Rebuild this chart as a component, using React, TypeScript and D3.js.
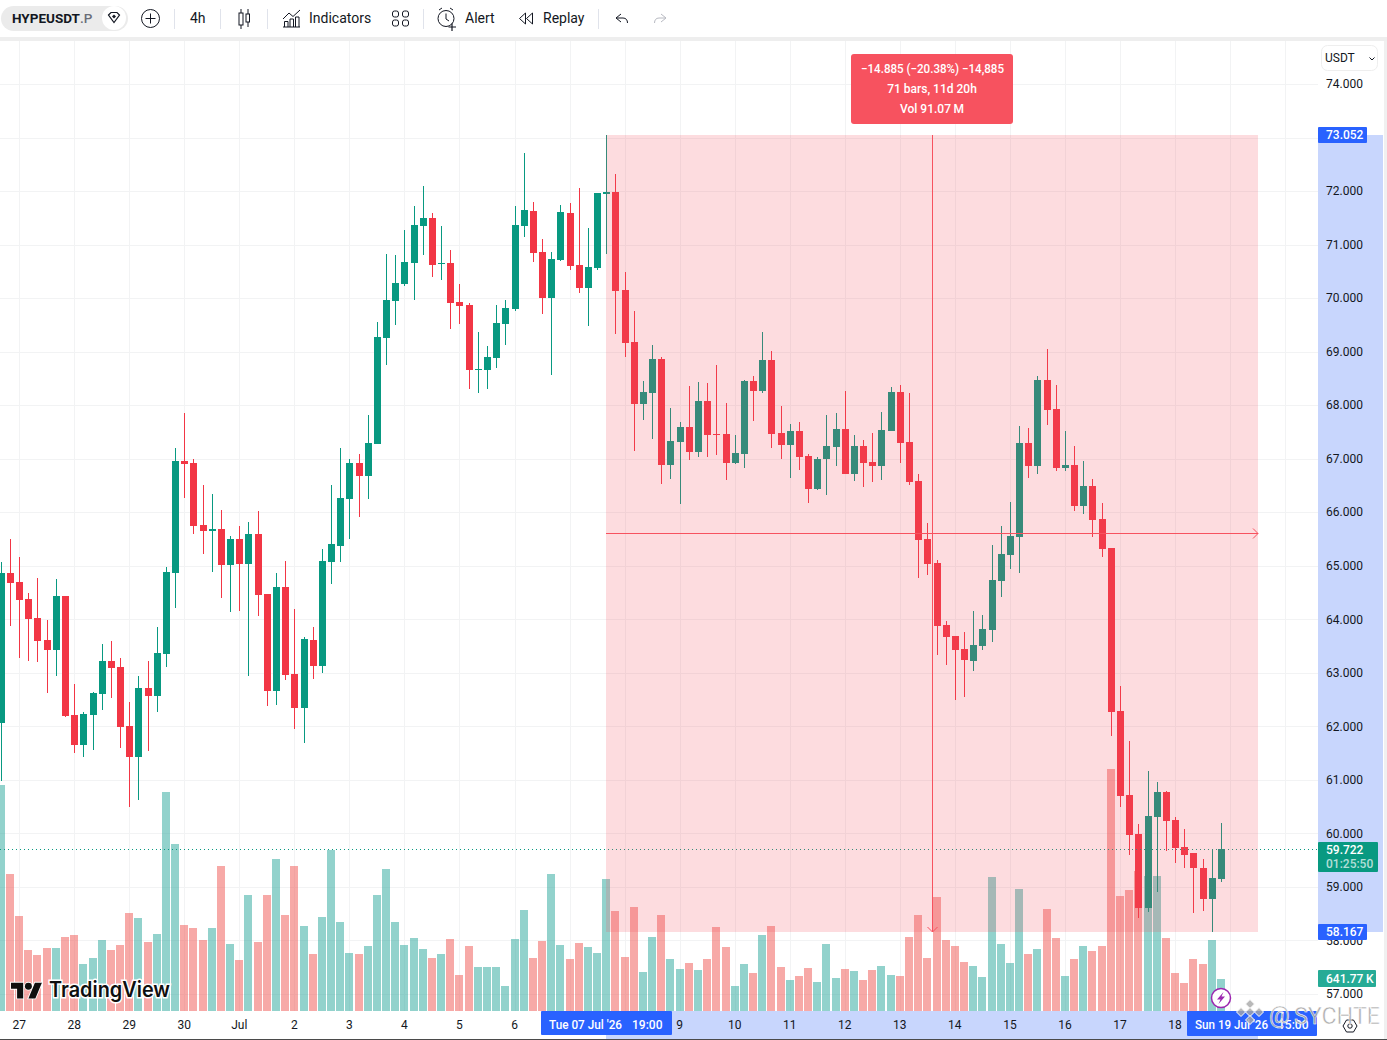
import React, { useEffect, useRef } from "react";
import * as d3 from "d3";

// 4h candles, oldest first (USDT)
const opens = [
  62.07, 64.87, 64.71, 64.39, 64.03, 63.62, 63.44, 64.44, 62.22, 61.66,
  62.22, 62.61, 63.23, 63.12, 62.02, 61.44, 62.73, 62.58, 63.36, 64.87,
  66.97, 66.93, 65.77, 65.66, 65.7, 65.02, 65.51, 65.04, 65.6, 64.48,
  62.67, 64.61, 62.99, 62.35, 63.62, 63.14, 65.08, 65.38, 66.26, 66.93,
  66.69, 67.28, 69.27, 69.96, 70.27, 70.67, 71.36, 71.51, 70.65, 70.67,
  69.94, 69.88, 68.67, 68.67, 68.89, 69.53, 69.81, 71.36, 71.64, 70.87,
  70.01, 70.72, 71.6, 70.63, 70.2, 70.57, 71.96, 71.99, 70.16, 69.19,
  68.03, 68.24, 68.87, 66.89, 67.32, 67.6, 67.14, 68.09, 67.47, 67.47,
  66.93, 67.1, 68.46, 68.28, 68.85, 67.49, 67.27, 67.53, 67.06, 66.44,
  67.0, 67.23, 67.57, 66.72, 67.25, 66.95, 66.87, 67.53, 68.26, 67.32,
  66.59, 65.51, 65.06, 63.9, 63.7, 63.45, 63.23, 63.51, 63.81, 64.73,
  65.21, 65.55, 67.3, 66.87, 68.48, 67.94, 66.84, 66.89, 66.13, 66.5,
  65.88, 65.34, 62.3, 60.73, 60.0, 58.61, 60.32, 60.78, 60.26, 59.76,
  59.64, 59.36, 58.78, 59.16,
];
const closes = [
  64.87, 64.69, 64.37, 64.02, 63.6, 63.44, 64.44, 62.2, 61.66, 62.24,
  62.63, 63.23, 63.1, 62.0, 61.44, 62.73, 62.58, 63.38, 64.89, 66.97,
  66.91, 65.75, 65.66, 65.7, 65.02, 65.51, 65.04, 65.6, 64.46, 62.67,
  64.61, 62.97, 62.35, 63.64, 63.14, 65.1, 65.42, 66.28, 66.93, 66.69,
  67.3, 69.28, 69.98, 70.29, 70.69, 71.38, 71.51, 70.63, 70.67, 69.92,
  69.86, 68.67, 68.69, 68.91, 69.55, 69.83, 71.38, 71.66, 70.85, 70.01,
  70.74, 71.62, 70.61, 70.2, 70.59, 71.98, 71.99, 70.14, 69.17, 68.03,
  68.26, 68.87, 66.89, 67.34, 67.6, 67.14, 68.09, 67.45, 67.45, 66.93,
  67.12, 68.46, 68.28, 68.85, 67.47, 67.27, 67.53, 67.04, 66.44, 67.0,
  67.25, 67.57, 66.72, 67.25, 66.93, 66.87, 67.55, 68.26, 67.3, 66.58,
  65.49, 65.04, 63.88, 63.68, 63.44, 63.25, 63.53, 63.83, 64.74, 65.23,
  65.57, 67.3, 66.87, 68.48, 67.92, 66.84, 66.89, 66.13, 66.5, 65.87,
  65.32, 62.28, 60.71, 59.98, 58.61, 60.33, 60.78, 60.24, 59.74, 59.61,
  59.36, 58.78, 59.18, 59.72,
];
const highs = [
  65.08, 65.51, 65.17, 64.5, 64.78, 64.0, 64.76, 64.44, 62.8, 62.28,
  62.65, 63.55, 63.6, 63.29, 62.46, 62.95, 63.23, 63.87, 64.99, 67.21,
  67.86, 67.0, 66.52, 66.35, 66.05, 65.57, 65.75, 65.83, 66.03, 64.48,
  64.87, 65.1, 64.2, 63.68, 63.87, 65.32, 66.52, 67.21, 67.0, 67.1,
  67.83, 69.56, 70.84, 70.82, 71.28, 71.73, 72.11, 71.6, 71.36, 70.91,
  70.27, 69.92, 69.38, 69.12, 69.88, 69.98, 71.73, 72.72, 71.81, 71.12,
  70.87, 71.75, 71.79, 72.07, 71.32, 71.98, 73.052, 72.33, 70.5, 69.77,
  68.46, 69.14, 68.91, 67.96, 67.7, 68.37, 68.44, 68.42, 68.76, 68.05,
  67.45, 68.48, 68.56, 69.38, 69.02, 67.99, 67.66, 67.7, 67.1, 67.04,
  67.83, 67.86, 68.28, 67.45, 67.36, 67.49, 67.88, 68.35, 68.39, 68.24,
  66.72, 65.81, 65.12, 63.98, 63.7, 63.77, 64.16, 64.09, 65.4, 65.75,
  66.2, 67.62, 67.58, 68.56, 69.06, 68.39, 67.53, 67.25, 66.97, 66.63,
  66.18, 65.34, 62.76, 61.74, 60.18, 61.17, 60.97, 60.8, 60.32, 60.09,
  59.64, 59.53, 59.72, 60.2,
];
const lows = [
  60.99, 63.88, 63.29, 63.23, 63.21, 62.63, 62.95, 62.18, 61.51, 61.44,
  61.57, 62.31, 62.54, 61.6, 60.5, 60.63, 61.55, 62.28, 63.12, 64.22,
  66.28, 65.6, 65.23, 64.89, 64.41, 64.15, 64.16, 62.95, 64.07, 62.39,
  62.41, 62.88, 61.96, 61.7, 62.89, 63.01, 64.67, 65.08, 65.51, 65.92,
  66.26, 67.28, 68.76, 69.51, 70.24, 69.98, 70.82, 70.41, 70.35, 69.43,
  69.53, 68.31, 68.24, 68.31, 68.71, 69.14, 69.77, 71.15, 70.69, 69.71,
  68.57, 70.7, 70.54, 70.11, 69.49, 70.54, 70.84, 69.34, 68.91, 67.15,
  67.73, 67.38, 66.54, 66.63, 66.16, 66.99, 67.04, 67.04, 67.08, 66.61,
  66.91, 66.84, 67.71, 68.24, 67.21, 67.0, 66.65, 66.8, 66.18, 66.43,
  66.33, 66.87, 66.72, 66.59, 66.48, 66.58, 66.61, 67.53, 66.93, 66.52,
  64.78, 64.84, 63.34, 63.16, 62.5, 62.56, 63.04, 63.44, 63.58, 64.43,
  64.95, 64.87, 66.65, 66.72, 67.64, 66.78, 66.78, 66.03, 65.98, 65.55,
  65.17, 61.83, 60.5, 59.61, 58.43, 58.54, 58.91, 59.68, 59.46, 59.36,
  58.52, 58.56, 58.167, 59.1,
];
// volume in thousands
const volumes = [
  4524, 2739, 1897, 1216, 1116, 1256, 1256, 1476, 1516, 935,
  1055, 1416, 1216, 1316, 1957, 1857, 1376, 1536, 4382, 3340,
  1717, 1657, 1416, 1657, 2899, 1336, 1015, 2318, 1376, 2318,
  3039, 1917, 2899, 1697, 1136, 1884, 3226, 1784, 1162, 1142,
  1303, 2325, 2846, 1784, 1323, 1463, 1242, 1062, 1142, 1443,
  721, 1303, 882, 882, 882, 501, 1443, 2024, 1062, 1403,
  2745, 1323, 1042, 1363, 1283, 1162, 2645, 2004, 1082, 2084,
  782, 1483, 1924, 1042, 842, 962, 822, 1042, 1683, 1283,
  501, 942, 762, 1523, 1703, 882, 621, 701, 862, 581,
  1343, 661, 842, 802, 621, 822, 902, 721, 701, 1483,
  1924, 1062, 2285, 1423, 1303, 982, 902, 681, 2685, 1343,
  962, 2445, 1142, 1242, 2044, 1463, 701, 1042, 1303, 1202,
  1303, 4850, 2305, 2425, 2806, 2705, 2705, 1463, 762, 561,
  1042, 942, 1423, 642,
];

const priceTicks = d3.range(57, 75);
// 73.000 sits under the range high label in the reference
const priceLabels = priceTicks.filter((p) => p !== 73);
const dayTickIndex = d3.range(2, 146, 6);
const dayLabels = [
  "27", "28", "29", "30", "Jul", "2", "3", "4", "5", "6", "", "", "9",
  "10", "11", "12", "13", "14", "15", "16", "17", "18", "", "",
];

const upColor = "#089981";
const downColor = "#f23645";
const toolColor = "#f7525f";
const blue = "#2962ff";
const blueBand = "#c8d6fd";
const gridColor = "#f2f3f4";
const font = "Roboto, 'Liberation Sans', sans-serif";

const rangeStart = 66;
const rangeEnd = 137;
const rangeHigh = 73.052;
const rangeLow = 58.167;
const lastPrice = 59.722;

const paneBottom = 1011;

const x = d3.scaleLinear().domain([0, 133]).range([1.3, 1221.4]);
const y = d3.scaleLinear().domain([60, 68]).range([833.9, 405.74]);
const yVol = d3.scaleLinear().domain([0, 4524]).range([paneBottom, 785]);

const App: React.FC = () => {
  const marksRef = useRef<SVGGElement>(null);

  useEffect(() => {
    if (!marksRef.current) return;
    const g = d3.select(marksRef.current);
    g.selectAll("*").remove();

    // Grid
    g.append("g")
      .selectAll("rect")
      .data(priceTicks)
      .join("rect")
      .attr("x", 0)
      .attr("width", 1318)
      .attr("y", (d) => Math.floor(y(d)))
      .attr("height", 1)
      .attr("fill", gridColor);
    g.append("g")
      .selectAll("rect")
      .data(dayTickIndex.filter((d) => x(d) < 1318))
      .join("rect")
      .attr("x", (d) => Math.floor(x(d)))
      .attr("width", 1)
      .attr("y", 41)
      .attr("height", paneBottom - 41)
      .attr("fill", gridColor);

    const idx = d3.range(opens.length);
    const isUp = (i: number) => closes[i] >= opens[i];

    // Volume
    g.append("g")
      .selectAll("rect")
      .data(idx)
      .join("rect")
      .attr("x", (i) => Math.floor(x(i)) - 4)
      .attr("width", 8)
      .attr("y", (i) => Math.round(yVol(volumes[i])))
      .attr("height", (i) => paneBottom - Math.round(yVol(volumes[i])))
      .attr("fill", (i) => (isUp(i) ? "#26a69a" : "#ef5350"))
      .attr("fill-opacity", 0.5);

    // Candles
    g.append("g")
      .selectAll("rect")
      .data(idx)
      .join("rect")
      .attr("x", (i) => Math.floor(x(i)))
      .attr("width", 1)
      .attr("y", (i) => Math.round(y(highs[i])))
      .attr("height", (i) => Math.round(y(lows[i])) - Math.round(y(highs[i])))
      .attr("fill", (i) => (isUp(i) ? upColor : downColor));
    g.append("g")
      .selectAll("rect")
      .data(idx)
      .join("rect")
      .attr("x", (i) => Math.floor(x(i)) - 3)
      .attr("width", 7)
      .attr("y", (i) => Math.round(y(Math.max(opens[i], closes[i]))))
      .attr("height", (i) =>
        Math.max(1, Math.round(y(Math.min(opens[i], closes[i]))) - Math.round(y(Math.max(opens[i], closes[i])))),
      )
      .attr("fill", (i) => (isUp(i) ? upColor : downColor));

    // Last price line
    g.append("line")
      .attr("x1", 0)
      .attr("x2", 1318)
      .attr("y1", Math.floor(y(lastPrice)) + 1.5)
      .attr("y2", Math.floor(y(lastPrice)) + 1.5)
      .attr("stroke", upColor)
      .attr("stroke-dasharray", "1 3");
  }, []);

  const boxLeft = Math.floor(x(rangeStart));
  const boxRight = Math.round(x(rangeEnd));
  const boxTop = Math.round(y(rangeHigh));
  const boxBottom = Math.round(y(rangeLow));
  const midX = 932.5;
  const midY = 533.5;

  return (
    <div style={{ position: "absolute", left: 0, top: 0 }}>
      <svg width={1387} height={1040} style={{ display: "block" }} fontFamily={font}>
        <rect width={1387} height={1040} fill="#fff" />
        <g ref={marksRef} />

        {/* measure tool */}
        <rect x={boxLeft} y={boxTop} width={boxRight - boxLeft} height={boxBottom - boxTop} fill={toolColor} fillOpacity={0.2} />
        <line x1={midX} x2={midX} y1={boxTop} y2={boxBottom} stroke={toolColor} />
        <line x1={boxLeft} x2={boxRight} y1={midY} y2={midY} stroke={toolColor} />
        <path d={`M${midX - 5},${boxBottom - 5}L${midX},${boxBottom}L${midX + 5},${boxBottom - 5}`} fill="none" stroke={toolColor} />
        <path d={`M${boxRight - 5},${midY - 5}L${boxRight},${midY}L${boxRight - 5},${midY + 5}`} fill="none" stroke={toolColor} />
        <rect x={851} y={54} width={162} height={70} rx={3} fill={toolColor} />
        <g fill="#fff" fontSize={12} fontWeight={500} textAnchor="middle" dominantBaseline="central">
          <text x={932.5} y={69} textLength={143} lengthAdjust="spacingAndGlyphs">−14.885 (−20.38%) −14,885</text>
          <text x={932} y={89}>71 bars, 11d 20h</text>
          <text x={932} y={109}>Vol 91.07{"\u2009"}M</text>
        </g>

        {/* price scale */}
        <rect x={1318} y={boxTop} width={65} height={boxBottom - boxTop} fill={blueBand} />
        <g fill="#131722" fontSize={12} dominantBaseline="central">
          {priceLabels.map((p) => (
            <text key={p} x={1326} y={y(p) - 0.3}>
              {d3.format(".3f")(p)}
            </text>
          ))}
        </g>
        <rect x={1321.5} y={45.5} width={56} height={25} rx={6} fill="#fff" stroke="#eeeeee" />
        <text x={1325} y={58} fontSize={12} fill="#131722" dominantBaseline="central">USDT</text>
        <path d="M1369.5,57.5L1372,60L1374.5,57.5" fill="none" stroke="#131722" />

        <g fontSize={12} fontWeight={500} dominantBaseline="central">
          <rect x={1318} y={127} width={49} height={16} rx={1} fill={blue} />
          <text x={1326} y={134.5} fill="#fff">{rangeHigh.toFixed(3)}</text>
          <rect x={1318} y={924} width={49} height={16} rx={1} fill={blue} />
          <text x={1326} y={932} fill="#fff">{rangeLow.toFixed(3)}</text>
          <rect x={1318} y={842} width={60} height={30} rx={1} fill={upColor} />
          <text x={1326} y={850} fill="#fff">{lastPrice.toFixed(3)}</text>
          <text x={1326} y={864} fill="#fff" fillOpacity={0.7}>01:25:50</text>
          <rect x={1318} y={970} width={58} height={17} rx={1} fill="#26ab96" />
          <text x={1326} y={979} fill="#fff">641.77{"\u2009"}K</text>
        </g>

        {/* time scale */}
        <rect x={boxLeft} y={paneBottom} width={boxRight - boxLeft} height={28} fill={blueBand} />
        <g fill="#131722" fontSize={12} textAnchor="middle" dominantBaseline="central">
          {dayTickIndex.map((d, i) =>
            dayLabels[i] ? (
              <text key={d} x={x(d) - 0.5} y={1024.5}>
                {dayLabels[i]}
              </text>
            ) : null,
          )}
        </g>
        <g fill="#fff" fontSize={12} fontWeight={500} dominantBaseline="central">
          <rect x={541} y={1011} width={131} height={24} rx={1} fill={blue} />
          <text x={549} y={1025} textLength={73} lengthAdjust="spacingAndGlyphs">Tue 07 Jul '26</text>
          <text x={632} y={1025}>19:00</text>
          <rect x={1187} y={1011} width={130} height={25} rx={1} fill={blue} />
          <text x={1195} y={1025} textLength={73} lengthAdjust="spacingAndGlyphs">Sun 19 Jul '26</text>
          <text x={1278} y={1025}>15:00</text>
        </g>
        <path d="M1343,1026L1346.5,1020L1353.5,1020L1357,1026L1353.5,1032L1346.5,1032Z" fill="none" stroke="#131722" />
        <circle cx={1350} cy={1026} r={2.2} fill="none" stroke="#131722" />

        {/* logo */}
        <g transform="translate(11,981) scale(0.87)">
          <path
            d="M14 20H7V9H0V2h14v18zM28 20h-8l7.5-18h8L28 20z"
            fill="#0f0f0f"
            stroke="#fff"
            strokeWidth={2}
            paintOrder="stroke"
          />
          <circle cx={20} cy={6} r={4} fill="#0f0f0f" stroke="#fff" strokeWidth={2} paintOrder="stroke" />
        </g>
        <text
          x={49}
          y={997}
          fontFamily="Inter, Roboto, sans-serif"
          fontSize={21}
          fontWeight={600}
          fill="#0f0f0f"
          stroke="#fff"
          strokeWidth={3}
          paintOrder="stroke"
          textLength={121}
          lengthAdjust="spacingAndGlyphs"
        >
          TradingView
        </text>

        {/* lightning badge */}
        <circle cx={1221} cy={998} r={9.5} fill="#fff" stroke="#9c27b0" strokeWidth={1.5} />
        <path d="M1223.5,992L1217,999.5L1220.5,999.5L1218.5,1004L1225,996.5L1221.5,996.5Z" fill="#9c27b0" />

        {/* watermark */}
        <g fill="#a8a8a8" fillOpacity={0.8} stroke="#fff" strokeWidth={1}>
          {[[1250, 1004], [1241, 1012], [1250, 1012], [1259, 1012], [1250, 1020]].map(([cx, cy]) => (
            <path key={`${cx}-${cy}`} d={`M${cx},${cy - 4.5}L${cx + 4.5},${cy}L${cx},${cy + 4.5}L${cx - 4.5},${cy}Z`} />
          ))}
        </g>
        <text x={1269} y={1023} fontSize={23} fill="#a0a0a0" fillOpacity={0.85} stroke="#fff" strokeWidth={0.5}>@</text>
        <text x={1294} y={1024} fontSize={23} fill="#a0a0a0" fillOpacity={0.85} stroke="#fff" strokeWidth={0.5} textLength={86} lengthAdjust="spacingAndGlyphs">SYCHTE</text>

        {/* frame */}
        <rect x={1384} y={41} width={3} height={998} fill="#f0f0f0" />
        <rect x={0} y={1039} width={1387} height={1} fill="#4a4a4a" />

        {/* toolbar */}
        <rect x={0} y={0} width={1387} height={37} fill="#fff" />
        <rect x={0} y={37} width={1387} height={4} fill="#eeeeee" />
        <rect x={1} y={6} width={127} height={25} rx={12.5} fill="#ebebeb" />
        <text x={12} y={18} fontSize={13.5} fontWeight={700} fill="#131722" dominantBaseline="central">
          HYPEUSDT<tspan fill="#6a6d78" fontWeight={500}>.P</tspan>
        </text>
        <circle cx={114} cy={18} r={12} fill="#fff" />
        <path d="M108.5,15L111,12.5L117,12.5L119.5,15L114,22.5Z" fill="none" stroke="#131722" strokeWidth={1.2} />
        <path d="M114,14.5L116,16.5L114,18.5L112,16.5Z" fill="#131722" />
        <g fill="none" stroke="#131722" strokeWidth={1}>
          <circle cx={150.5} cy={18.5} r={9} />
          <path d="M150.5,13.5V23.5M145.5,18.5H155.5" />
          <rect x={239} y={13} width={4} height={12} />
          <path d="M241,9V13M241,25V29" />
          <rect x={246} y={14} width={3.5} height={8} />
          <path d="M248,9V14M248,22V27" />
          <path d="M283,19L289,13L293,16.5L300,10" />
          <path d="M283,27H300M284.5,27V21.5H288V27M290,27V19H293.5V27M295.5,27V17H299V27" />
          <rect x={392.5} y={11} width={6} height={6} rx={2} />
          <rect x={402.5} y={11} width={6} height={6} rx={2} />
          <rect x={392.5} y={20} width={6} height={6} rx={2} />
          <rect x={402.5} y={20} width={6} height={6} rx={2} />
          <circle cx={446} cy={18.5} r={8} />
          <path d="M446,13.5V19L449,21M439,10L442,8M453,10L450,8" />
          <path d="M452,23.5V31M448.5,27H456" strokeWidth={1.2} fill="#fff" />
          <path d="M525.5,13L519.5,18.5L525.5,24ZM532.5,13L526.5,18.5L532.5,24Z" />
          <path d="M621,14L616,18L621,22M616,18H623C626,18 627.5,20 627.5,23" />
          <path d="M661,14L666,18L661,22M666,18H659C656,18 654.5,20 654.5,23" stroke="#b8bac2" />
        </g>
        <g fill="#e0e3eb">
          {[174, 220, 267, 423, 598].map((sx) => (
            <rect key={sx} x={sx} y={9} width={1} height={20} />
          ))}
        </g>
        <g fontSize={14} fill="#131722" dominantBaseline="central">
          <text x={190} y={18}>4h</text>
          <text x={309} y={18}>Indicators</text>
          <text x={465} y={18}>Alert</text>
          <text x={543} y={18}>Replay</text>
        </g>
      </svg>
    </div>
  );
};

export default App;
